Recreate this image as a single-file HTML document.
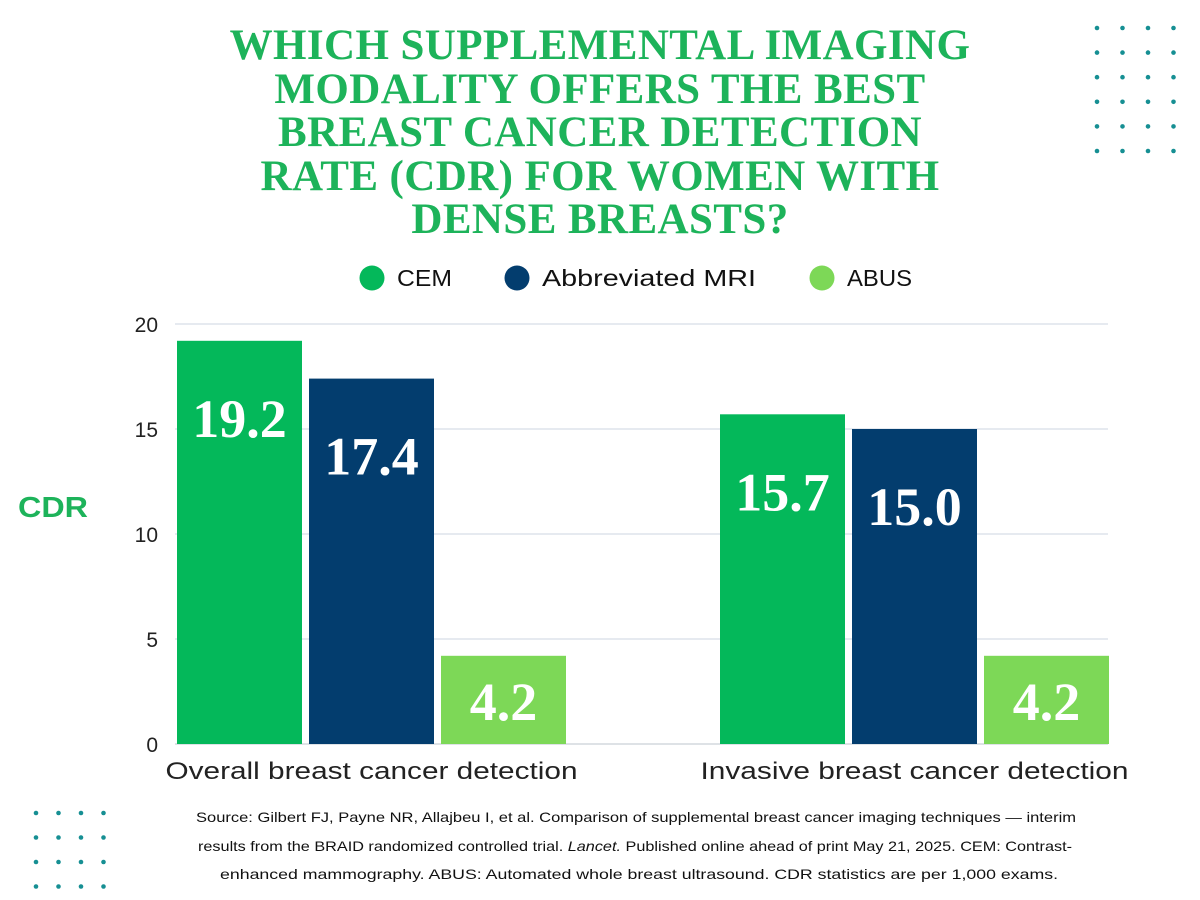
<!DOCTYPE html>
<html><head><meta charset="utf-8"><style>
body{margin:0;background:#fff;}
#c{position:relative;width:1200px;height:900px;overflow:hidden;font-family:"Liberation Sans",sans-serif;}
.t{position:absolute;left:0;width:1200px;text-align:center;font-family:"Liberation Serif",serif;font-weight:bold;color:#1db35a;font-size:43px;letter-spacing:0.4px;line-height:43.5px;top:24px}
</style></head><body>
<div id="c">
<div class="t">WHICH SUPPLEMENTAL IMAGING<br>MODALITY OFFERS THE BEST<br>BREAST CANCER DETECTION<br>RATE (CDR) FOR WOMEN WITH<br>DENSE BREASTS?</div>
<svg id="s" width="1200" height="900" style="position:absolute;left:0;top:0">
<g font-size="14" fill="#111">
<text x="196" y="822" textLength="880" lengthAdjust="spacingAndGlyphs">Source:  Gilbert FJ, Payne NR, Allajbeu I, et al. Comparison of supplemental breast cancer imaging techniques — interim</text>
<text x="198" y="851" textLength="874" lengthAdjust="spacingAndGlyphs">results from the BRAID randomized controlled trial. <tspan font-style="italic">Lancet.</tspan> Published online ahead of print May 21, 2025.  CEM: Contrast-</text>
<text x="220" y="879" textLength="838" lengthAdjust="spacingAndGlyphs">enhanced mammography. ABUS: Automated whole breast ultrasound. CDR statistics are per 1,000 exams.</text>
</g>
</svg>
</div>
<script>
const categories=["Overall breast cancer detection","Invasive breast cancer detection"];
const seriesNames=["CEM","Abbreviated MRI","ABUS"];
const cem=[19.2,15.7];
const mri=[17.4,15.0];
const abus=[4.2,4.2];
const valueLabels=[["19.2","17.4","4.2"],["15.7","15.0","4.2"]];
const yTicks=[0,5,10,15,20];
const colors=["#04b85a","#033d6e","#7dd857"];
const NS="http://www.w3.org/2000/svg";
const svg=document.getElementById('s');
function mk(t,a,p){const e=document.createElementNS(NS,t);for(const k in a)e.setAttribute(k,a[k]);(p||svg).appendChild(e);return e;}
const y=v=>744-v*21;
const groupX=[177,720];const bw=125,gap=7;
const x=(g,s)=>groupX[g]+s*(bw+gap);
[[1097,28,6],[36,813,4]].forEach(([x0,y0,rows],k)=>{for(let r=0;r<rows;r++)for(let c=0;c<4;c++){const d=mk('circle',{cx:x0+c*(k?22.5:25.5),cy:y0+r*(k?24.5:24.6),r:2.3,fill:'#168f93'});

}});
yTicks.forEach(t=>{const l=mk('line',{x1:175,x2:1108,y1:y(t),y2:y(t),stroke:t?'#d6dde6':'#c9d0d8','stroke-width':1.3});


const tx=mk('text',{x:158,y:y(t)+8,'text-anchor':'end','font-size':21,fill:'#222'});tx.textContent=t;

});
const yt=mk('text',{x:53,y:517,'text-anchor':'middle','font-size':29,'font-weight':'bold',fill:'#1db35a',textLength:70,lengthAdjust:'spacingAndGlyphs'});yt.textContent='CDR';


const series=[cem,mri,abus];
const catW=[412,428];
categories.forEach((c,g)=>{series.forEach((arr,s)=>{const v=arr[g];const top=y(v);
const b=mk('rect',{x:x(g,s),y:top,width:bw,height:744-top,fill:colors[s]});


const cy=Math.min(top+78,(top+744)/2+2);
const lt=mk('text',{x:x(g,s)+bw/2,y:cy+18,'text-anchor':'middle','font-size':54,'font-weight':'bold','font-family':'Liberation Serif, serif',fill:'#fff'});lt.textContent=valueLabels[g][s];

});
const ct=mk('text',{x:x(g,1)+bw/2,y:779,'text-anchor':'middle','font-size':24,fill:'#222',textLength:catW[g],lengthAdjust:'spacingAndGlyphs'});ct.textContent=c;

});
const lx=[372,517,822];const lw=[55,214,65];
seriesNames.forEach((n,i)=>{const c=mk('circle',{cx:lx[i],cy:278,r:12.5,fill:colors[i]});


const t=mk('text',{x:lx[i]+25,y:286,'font-size':23,fill:'#111',textLength:lw[i],lengthAdjust:'spacingAndGlyphs'});t.textContent=n;

});
</script>
</body></html>
